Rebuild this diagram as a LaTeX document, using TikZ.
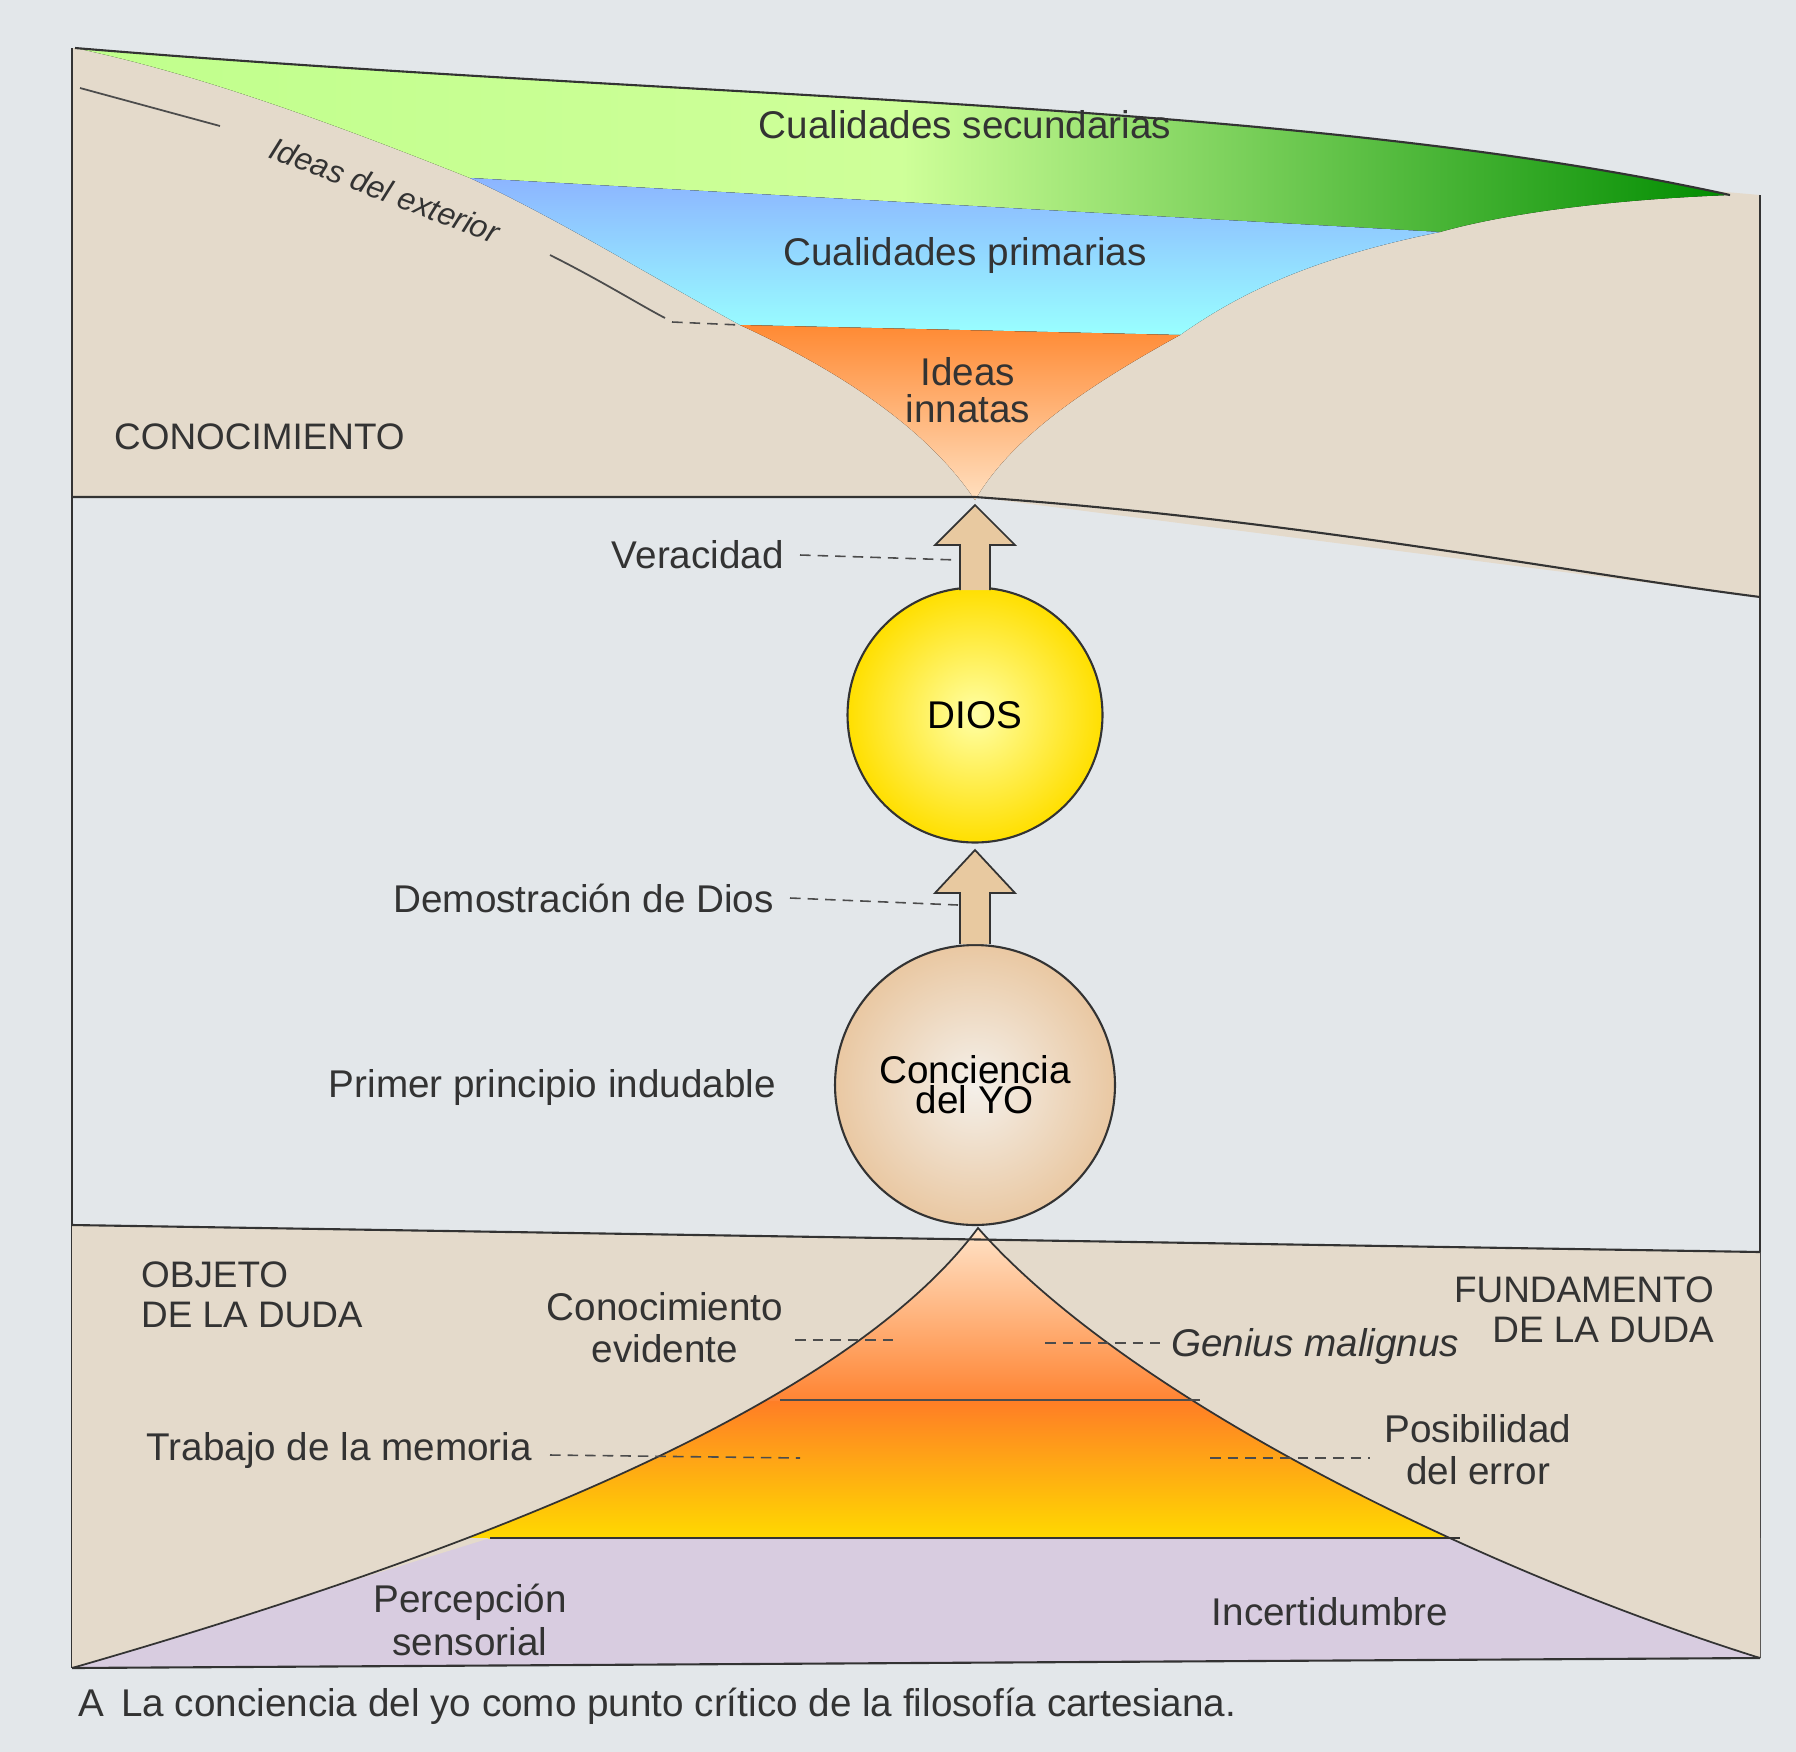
\documentclass[tikz,border=0pt]{standalone}
\usepackage{fontspec}
\setmainfont{Liberation Sans}
\definecolor{page}{HTML}{E3E7EA}
\definecolor{beige}{HTML}{E4DACB}
\definecolor{lav}{HTML}{D8CCE0}
\definecolor{arr}{HTML}{E8C9A0}
\begin{document}
\begin{tikzpicture}[x=0.02cm,y=-0.02cm,
 lbl/.style={font=\fontsize{22}{24}\selectfont,text=black!80,align=center},
 dsh/.style={dashed,dash pattern=on 6pt off 4pt,line width=0.9pt,black!70},
 edge/.style={line width=1.2pt,black!80},
 arrowshape/.style={fill=arr,draw=black!80,line width=1pt,line join=miter}]
\fill[page] (0,0) rectangle (1796,1752);
\useasboundingbox (0,0) rectangle (1796,1752);
% top region beige
\fill[beige] (72,48) -- (1760,195) -- (1760,597) -- (975,497) -- (72,497) -- cycle;
% green
\fill[left color=green!40!lime!45!white, right color=green!55!black, middle color=green!30!lime!40!white]
 (75,48) .. controls (700,100) and (1300,100) .. (1730,195)
 .. controls (1600,200) and (1500,215) .. (1440,232)
 -- (470,178) .. controls (300,110) and (180,70) .. cycle;
% blue
\fill[top color=cyan!35!blue!45, bottom color=cyan!40!white]
 (470,178) -- (1440,232) .. controls (1300,260) and (1230,300) .. (1180,335)
 -- (740,325) .. controls (640,270) and (560,220) .. cycle;
% orange
\fill[top color=orange!85!red!80, bottom color=orange!25!white]
 (740,325) -- (1180,335) .. controls (1080,390) and (1010,440) .. (975,500)
 .. controls (935,440) and (860,380) .. cycle;
\draw[edge] (75,48) .. controls (700,100) and (1300,100) .. (1730,195);
\draw[edge] (1760,195) -- (1760,1658);
\draw[edge] (72,48) -- (72,1668);
\draw[edge] (72,497) -- (975,497) .. controls (1300,520) and (1550,570) .. (1760,597);
% ideas del exterior line
\draw[line width=1pt,black!70] (80,88) -- (220,126);
\draw[line width=1pt,black!70] (550,255) .. controls (600,280) and (640,305) .. (665,318);
\draw[dsh] (672,322) -- (740,325);
\node[lbl,rotate=-21,font=\fontsize{18}{20}\selectfont\itshape] (ext) at (385,190) {Ideas del exterior};
\node[lbl] (cs) at (965,125) {Cualidades secundarias};
\node[lbl] (cp) at (965,255) {Cualidades primarias};
\node[lbl] (ii) at (968,390) {Ideas\\[-3pt]innatas};
\node[lbl,font=\fontsize{21}{23}\selectfont,anchor=west] (con) at (108,437) {CONOCIMIENTO};
% circles
\node[circle,draw=black!80,line width=1.2pt,inner sep=0pt,
 inner color=yellow!35!white,outer color=yellow!75!orange,minimum size=5.1cm] (dios) at (975,715) {\fontsize{22}{24}\selectfont DIOS};
\node[circle,draw=black!80,line width=1.2pt,inner sep=0pt,
 inner color=beige!40!white,outer color=beige!80!orange,minimum size=5.6cm,align=center] (yo) at (975,1085) {\fontsize{22}{24}\selectfont Conciencia\\\fontsize{22}{24}\selectfont del YO};
% arrows
\draw[arrowshape] (960,590) -- (960,545) -- (935,545) -- (975,505) -- (1015,545) -- (990,545) -- (990,590);
\draw[arrowshape] (960,944) -- (960,893) -- (935,893) -- (975,850) -- (1015,893) -- (990,893) -- (990,944);
\node[lbl,anchor=east] (ver) at (790,555) {Veracidad};
\draw[dsh] (ver.east) ++(10,0) -- (958,560);
\node[lbl,anchor=east] (dem) at (780,898) {Demostración de Dios};
\draw[dsh] (dem.east) ++(10,0) -- (958,905);
\node[lbl,anchor=east] (pp) at (782,1087) {Primer principio indudable};
% bottom section
\fill[beige] (72,1225) -- (1760,1252) -- (1760,1658) -- (72,1668) -- cycle;
\def\tri{(72,1668) .. controls (500,1545) and (850,1400) .. (978,1228) .. controls (1130,1400) and (1480,1570) .. (1760,1658) -- cycle}
\begin{scope}
\clip \tri;
\fill[lav] (72,1538) rectangle (1760,1670);
\fill[top color=orange!80!red!85, bottom color=yellow!70!orange] (72,1400) rectangle (1760,1538);
\fill[top color=orange!20!white, bottom color=orange!80!red!80] (72,1225) rectangle (1760,1400);
\end{scope}
\fill[beige] (72,1538) -- (72,1668) -- (490,1538) -- cycle;
\fill[beige] (1760,1538) -- (1760,1658) -- (1460,1538) -- cycle;
\draw[edge] (72,1225) -- (1760,1252);
\draw[edge] (72,1668) -- (1760,1658);
\draw[line width=1pt,black!80] (72,1668) .. controls (500,1545) and (850,1400) .. (978,1228) .. controls (1130,1400) and (1480,1570) .. (1760,1658);
\draw[line width=1pt,black!80] (490,1538) -- (1460,1538);
\draw[line width=0.8pt,black!70] (780,1400) -- (1200,1400);
\node[lbl,font=\fontsize{21}{23}\selectfont,anchor=west,align=left] (obj) at (135,1295) {OBJETO\\DE LA DUDA};
\node[lbl,font=\fontsize{21}{23}\selectfont,anchor=east,align=right] (fun) at (1720,1310) {FUNDAMENTO\\DE LA DUDA};
\node[lbl] (ce) at (665,1328) {Conocimiento\\evidente};
\draw[dsh] (795,1340) -- (895,1340);
\node[lbl,font=\fontsize{22}{24}\selectfont\itshape,anchor=west] (gm) at (1165,1346) {Genius malignus};
\draw[dsh] (1045,1343) -- (1160,1343);
\node[lbl,anchor=east] (tm) at (538,1450) {Trabajo de la memoria};
\draw[dsh] (550,1455) -- (800,1458);
\node[lbl] (pe) at (1478,1450) {Posibilidad\\del error};
\draw[dsh] (1210,1458) -- (1370,1458);
\node[lbl] (ps) at (470,1620) {Percepción\\sensorial};
\node[lbl] (inc) at (1330,1612) {Incertidumbre};
\node[lbl,anchor=west] (cap) at (72,1706) {A\, La conciencia del yo como punto crítico de la filosofía cartesiana.};
\end{tikzpicture}
\end{document}
